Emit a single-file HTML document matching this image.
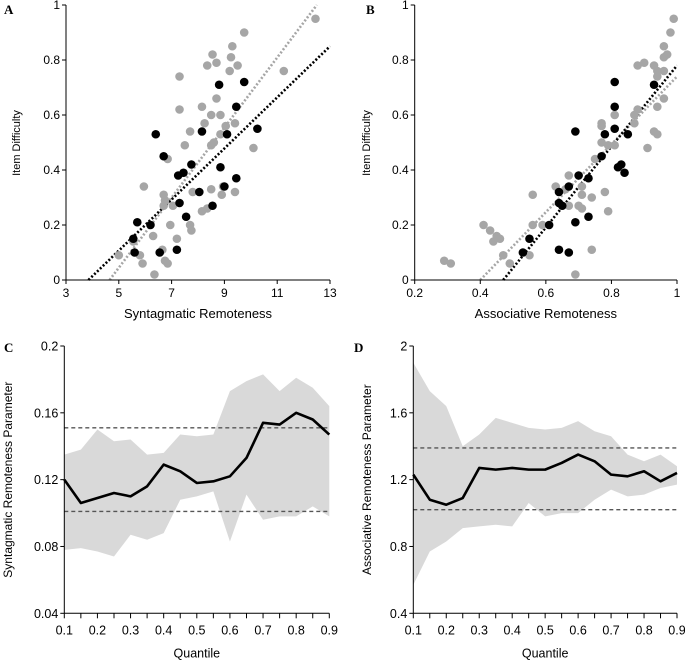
<!DOCTYPE html>
<html><head><meta charset="utf-8"><style>
body{margin:0;background:#fff;}
svg{display:block;font-family:"Liberation Sans",sans-serif;}
</style></head><body>
<svg id="fig" width="685" height="661" viewBox="0 0 685 661" xmlns="http://www.w3.org/2000/svg"></svg>
<script>
// ---- Panel A data ----
const aGrayX=[12.45,9.75,9.3,8.55,9.25,8.7,8.35,9.5,9.2,11.25,7.3,8.7,8.15,7.3,8.5,8.85,8.25,9.4,9.05,7.7,8.85,8.6,8.5,7.5,10.1,6.85,5.95,8.95,7.8,8.5,9.4,8.9,6.7,6.75,6.7,7.05,8.15,8.35,6.95,7.7,7.75,6.3,7.2,5.55,6.65,5.0,5.8,6.75,6.85,5.9,6.35];
const aGrayY=[0.95,0.90,0.85,0.82,0.81,0.79,0.78,0.78,0.76,0.76,0.74,0.66,0.63,0.62,0.60,0.60,0.57,0.57,0.56,0.54,0.53,0.50,0.49,0.49,0.48,0.44,0.34,0.34,0.32,0.33,0.32,0.31,0.31,0.29,0.27,0.27,0.25,0.26,0.20,0.20,0.18,0.16,0.15,0.14,0.11,0.09,0.09,0.07,0.06,0.06,0.02];
const aBlackX=[6.4,6.7,7.25,7.45,7.75,8.15,8.8,9.75,9.45,10.25,9.1,8.85,9.45,9.0,8.05,7.3,8.55,7.55,5.7,6.2,5.55,5.6,6.55,7.2];
const aBlackY=[0.53,0.45,0.38,0.39,0.42,0.54,0.71,0.72,0.63,0.55,0.53,0.41,0.37,0.34,0.32,0.28,0.27,0.23,0.21,0.20,0.15,0.10,0.10,0.11];
const aGrayFit=[[4.65,0],[12.5,1.0]];
const aBlackFit=[[3.85,0],[13,0.85]];
const aXTicks=[3,5,7,9,11,13];
const abYTicks=[0,0.2,0.4,0.6,0.8,1];
// ---- Panel B data ----
const bGrayX=[0.99,0.98,0.96,0.97,0.96,0.88,0.90,0.93,0.94,0.96,0.94,0.96,0.94,0.88,0.87,0.81,0.87,0.77,0.77,0.93,0.94,0.77,0.79,0.81,0.91,0.75,0.67,0.71,0.63,0.66,0.56,0.71,0.78,0.74,0.67,0.70,0.71,0.79,0.56,0.59,0.41,0.43,0.45,0.46,0.44,0.47,0.55,0.49,0.29,0.31,0.74,0.69];
const bGrayY=[0.95,0.90,0.85,0.82,0.81,0.78,0.79,0.78,0.76,0.76,0.74,0.66,0.63,0.62,0.60,0.60,0.57,0.57,0.56,0.54,0.53,0.50,0.49,0.49,0.48,0.44,0.38,0.34,0.34,0.33,0.31,0.31,0.32,0.30,0.27,0.27,0.26,0.25,0.20,0.20,0.20,0.18,0.16,0.15,0.14,0.09,0.09,0.06,0.07,0.06,0.11,0.02];
const bBlackX=[0.81,0.93,0.81,0.81,0.78,0.85,0.69,0.77,0.82,0.83,0.84,0.70,0.73,0.67,0.64,0.64,0.65,0.69,0.73,0.61,0.55,0.53,0.64,0.67];
const bBlackY=[0.72,0.71,0.63,0.55,0.53,0.53,0.54,0.45,0.41,0.42,0.39,0.38,0.37,0.34,0.32,0.28,0.27,0.21,0.23,0.20,0.15,0.10,0.11,0.10];
const bGrayFit=[[0.40,0],[1.0,0.74]];
const bBlackFit=[[0.47,0],[1.0,0.78]];
const bXTicks=[0.2,0.4,0.6,0.8,1];
// ---- Panel C/D data ----
const quantiles=[0.1,0.15,0.2,0.25,0.3,0.35,0.4,0.45,0.5,0.55,0.6,0.65,0.7,0.75,0.8,0.85,0.9];
const cLine=[0.120,0.106,0.109,0.112,0.110,0.116,0.129,0.125,0.118,0.119,0.122,0.133,0.154,0.153,0.160,0.156,0.147];
const cUpper=[0.135,0.138,0.150,0.143,0.144,0.135,0.136,0.147,0.146,0.147,0.173,0.179,0.183,0.173,0.181,0.175,0.164];
const cLower=[0.078,0.079,0.077,0.074,0.087,0.084,0.088,0.108,0.110,0.113,0.083,0.111,0.096,0.098,0.098,0.104,0.098];
const cDashed=[0.151,0.101];
const cYTicks=[0.04,0.08,0.12,0.16,0.2];
const dLine=[1.23,1.08,1.05,1.09,1.27,1.26,1.27,1.26,1.26,1.30,1.35,1.31,1.23,1.22,1.25,1.19,1.24];
const dUpper=[1.90,1.73,1.64,1.40,1.47,1.57,1.54,1.51,1.50,1.51,1.55,1.49,1.46,1.35,1.31,1.35,1.28];
const dLower=[0.57,0.77,0.83,0.91,0.92,0.93,0.92,1.06,0.98,1.00,1.00,1.08,1.14,1.10,1.11,1.15,1.17];
const dDashed=[1.39,1.02];
const dYTicks=[0.4,0.8,1.2,1.6,2];
const qTickLabels=[0.1,0.2,0.3,0.4,0.5,0.6,0.7,0.8,0.9];

const NS="http://www.w3.org/2000/svg";
const svg=document.getElementById('fig');
function el(tag,attrs,parent){const e=document.createElementNS(NS,tag);for(const k in attrs)e.setAttribute(k,attrs[k]);(parent||svg).appendChild(e);return e;}
function lin(d0,d1,r0,r1){return v=>r0+(v-d0)/(d1-d0)*(r1-r0);}
function txt(g,x,y,s,opts){const t=el('text',Object.assign({x:x,y:y,'font-size':12,fill:'#000'},opts||{}),g);t.textContent=s;return t;}

function scatterPanel(cfg){
  const g=el('g',{});
  
  
  const x=lin(cfg.xd[0],cfg.xd[1],cfg.xr[0],cfg.xr[1]);
  const y=lin(0,1,cfg.yr[0],cfg.yr[1]);
  // fit lines
  [[cfg.grayFit,'#a6a6a6','gray-trend-line'],[cfg.blackFit,'#000','black-trend-line']].forEach(f=>{
    const l=el('line',{x1:x(f[0][0][0]),y1:y(f[0][0][1]),x2:x(f[0][1][0]),y2:y(f[0][1][1]),stroke:f[1],'stroke-width':2.6,'stroke-dasharray':'2 2'},g);
    
    
  });
  cfg.grayX.forEach((v,i)=>{const c=el('circle',{cx:x(v),cy:y(cfg.grayY[i]),r:4.3,fill:'#a6a6a6'},g);
    
    });
  cfg.blackX.forEach((v,i)=>{const c=el('circle',{cx:x(v),cy:y(cfg.blackY[i]),r:4.3,fill:'#000'},g);
    
    });
  // axes
  el('line',{x1:cfg.xr[0],y1:cfg.yr[0],x2:cfg.xr[1],y2:cfg.yr[0],stroke:'#000','stroke-width':1},g);
  el('line',{x1:cfg.xr[0],y1:cfg.yr[0],x2:cfg.xr[0],y2:cfg.yr[1],stroke:'#000','stroke-width':1},g);
  cfg.xTicks.forEach(v=>{el('line',{x1:x(v),x2:x(v),y1:cfg.yr[0],y2:cfg.yr[0]+4,stroke:'#000'},g);
    const t=txt(g,x(v),cfg.yr[0]+17,String(v),{'text-anchor':'middle'});
    
    });
  abYTicks.forEach(v=>{el('line',{x1:cfg.xr[0]-4,x2:cfg.xr[0],y1:y(v),y2:y(v),stroke:'#000'},g);
    const t=txt(g,cfg.xr[0]-6,y(v)+4,String(v),{'text-anchor':'end'});
    
    });
  const xt=txt(g,(cfg.xr[0]+cfg.xr[1])/2,cfg.yr[0]+38,cfg.xTitle,{'text-anchor':'middle','font-size':13});
  
  
  const yt=txt(g,0,0,'Item Difficulty',{'text-anchor':'middle','font-size':11,transform:`translate(${cfg.yTitleX},143) rotate(-90)`});
  
  
  const pl=txt(g,cfg.letterX,14,cfg.letter,{'font-family':'Liberation Serif,serif','font-weight':'bold','font-size':13});
  
  
}

function quantPanel(cfg){
  const g=el('g',{});
  
  
  const x=lin(0.1,0.9,cfg.xr[0],cfg.xr[1]);
  const y=lin(cfg.yd[0],cfg.yd[1],cfg.yr[0],cfg.yr[1]);
  let pts=quantiles.map((q,i)=>x(q)+','+y(cfg.upper[i]));
  pts=pts.concat(quantiles.map((q,i)=>x(q)+','+y(cfg.lower[i])).reverse());
  const band=el('polygon',{points:pts.join(' '),fill:'#d9d9d9'},g);
  
  
  cfg.dashed.forEach(v=>{const d=el('line',{x1:cfg.xr[0],x2:cfg.xr[1],y1:y(v),y2:y(v),stroke:'#555','stroke-width':1.4,'stroke-dasharray':'4 3'},g);
    
    });
  const line=el('polyline',{points:quantiles.map((q,i)=>x(q)+','+y(cfg.line[i])).join(' '),fill:'none',stroke:'#000','stroke-width':2.6,'stroke-linejoin':'round'},g);
  
  
  el('line',{x1:cfg.xr[0],y1:cfg.yr[0],x2:cfg.xr[1],y2:cfg.yr[0],stroke:'#000'},g);
  el('line',{x1:cfg.xr[0],y1:cfg.yr[0],x2:cfg.xr[0],y2:cfg.yr[1],stroke:'#000'},g);
  quantiles.forEach(q=>el('line',{x1:x(q),x2:x(q),y1:cfg.yr[0],y2:cfg.yr[0]+5,stroke:'#000'},g));
  qTickLabels.forEach(q=>{const t=txt(g,x(q),cfg.yr[0]+21,q.toFixed(1),{'text-anchor':'middle','font-size':12.5});
    
    });
  cfg.yTicks.forEach(v=>{el('line',{x1:cfg.xr[0]-4,x2:cfg.xr[0],y1:y(v),y2:y(v),stroke:'#000'},g);
    const t=txt(g,cfg.xr[0]-6,y(v)+4.5,String(v),{'text-anchor':'end','font-size':12.5});
    
    });
  const xt=txt(g,(cfg.xr[0]+cfg.xr[1])/2,cfg.yr[0]+44,'Quantile',{'text-anchor':'middle','font-size':12.5});
  
  
  const yt=txt(g,0,0,cfg.yTitle,{'text-anchor':'middle','font-size':12,transform:`translate(${cfg.yTitleX},${(cfg.yr[0]+cfg.yr[1])/2}) rotate(-90)`});
  
  
  const pl=txt(g,cfg.letterX,352,cfg.letter,{'font-family':'Liberation Serif,serif','font-weight':'bold','font-size':13});
  
  
}

scatterPanel({name:'panel-a-syntagmatic-scatter',xd:[3,13],xr:[66,330],yr:[280,5],grayX:aGrayX,grayY:aGrayY,blackX:aBlackX,blackY:aBlackY,grayFit:aGrayFit,blackFit:aBlackFit,xTicks:aXTicks,xTitle:'Syntagmatic Remoteness',yTitleX:20,letter:'A',letterX:4});
scatterPanel({name:'panel-b-associative-scatter',xd:[0.2,1],xr:[414.7,677],yr:[280,5],grayX:bGrayX,grayY:bGrayY,blackX:bBlackX,blackY:bBlackY,grayFit:bGrayFit,blackFit:bBlackFit,xTicks:bXTicks,xTitle:'Associative Remoteness',yTitleX:370,letter:'B',letterX:366});
quantPanel({name:'panel-c-syntagmatic-quantile',yd:[0.04,0.2],xr:[64.3,329.3],yr:[613.3,346],upper:cUpper,lower:cLower,line:cLine,dashed:cDashed,yTicks:cYTicks,yTitle:'Syntagmatic Remoteness Parameter',yTitleX:12,letter:'C',letterX:4});
quantPanel({name:'panel-d-associative-quantile',yd:[0.4,2],xr:[413.3,677],yr:[613.3,346],upper:dUpper,lower:dLower,line:dLine,dashed:dDashed,yTicks:dYTicks,yTitle:'Associative Remoteness Parameter',yTitleX:371,letter:'D',letterX:354});
</script>
</body></html>
